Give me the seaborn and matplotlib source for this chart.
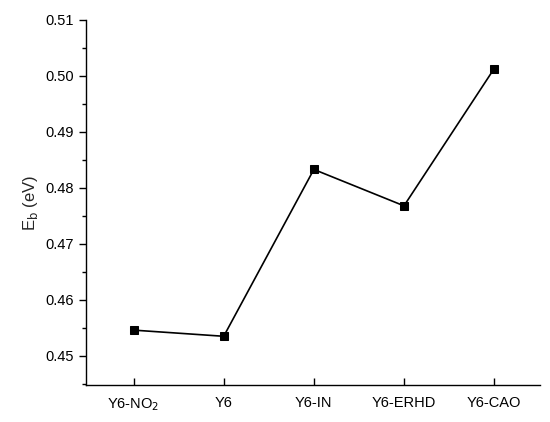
import matplotlib
matplotlib.use("Agg")
import matplotlib.pyplot as plt
import seaborn as sns
import pandas as pd
from matplotlib.ticker import MultipleLocator

categories = ["Y6-NO$_2$", "Y6", "Y6-IN", "Y6-ERHD", "Y6-CAO"]
eb_values = [0.4546, 0.4535, 0.4833, 0.4768, 0.5013]

sns.set_style("ticks")
plt.rcParams['font.family'] = ['Arial', 'Liberation Sans', 'DejaVu Sans']
df = pd.DataFrame({"x": range(len(categories)), "Eb": eb_values})

fig = plt.figure(figsize=(5.5, 4.22), dpi=100)
ax = fig.add_axes([0.156, 0.0877, 0.826, 0.865])
sns.lineplot(data=df, x="x", y="Eb", ax=ax, color="black", lw=1.2,
             marker="s", markersize=6, markeredgecolor="black")
ax.set_xticks(range(len(categories)))
ax.set_xticklabels(categories, fontsize=10.5)
ax.set_xlim(-0.53, 4.51)
ax.set_ylim(0.4448, 0.51)
yt = [0.45, 0.46, 0.47, 0.48, 0.49, 0.50, 0.51]
ax.set_yticks(yt)
ax.set_yticklabels([f"{v:.2f}" for v in yt], fontsize=10.5)
ax.yaxis.set_minor_locator(MultipleLocator(0.005))
ax.set_xlabel("")
ax.set_ylabel("E$_\\mathrm{b}$ (eV)", fontsize=12)
ax.tick_params(axis="y", which="major", direction="out", length=5, width=1, colors="black")
ax.tick_params(axis="y", which="minor", direction="out", length=3, width=1, colors="black")
ax.tick_params(axis="x", direction="in", length=5, width=1, colors="black", pad=8)
for s in ["left", "bottom"]:
    ax.spines[s].set_linewidth(1)
    ax.spines[s].set_color("black")
sns.despine(ax=ax)
fig.savefig("out.png", dpi=100)
